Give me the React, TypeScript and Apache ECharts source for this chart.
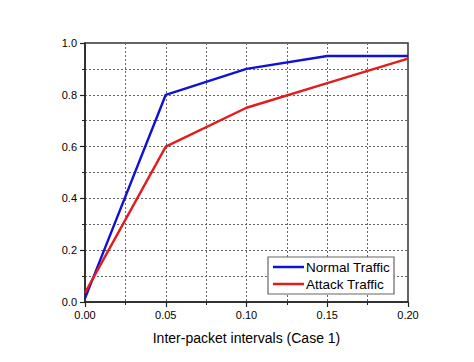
import React, { useEffect, useRef } from "react";
import * as echarts from "echarts";

const xValues = [0, 0.05, 0.1, 0.15, 0.2];
const normalTraffic = [0.014, 0.8, 0.9, 0.95, 0.95];
const attackTraffic = [0.035, 0.6, 0.75, 0.845, 0.94];
const seriesNames = ["Normal Traffic", "Attack Traffic"];
const xAxisTitle = "Inter-packet intervals (Case 1)";

export default function App() {
  const ref = useRef<HTMLDivElement>(null);
  useEffect(() => {
    if (!ref.current) return;
    const chart = echarts.init(ref.current, null, { renderer: "svg" });
    const font = "Liberation Sans, Arial, sans-serif";
    const gridLine = { show: true, lineStyle: { color: "#666", type: [2, 2], width: 1 } };
    chart.setOption({
      animation: false,
      grid: {
        left: 85,
        right: 66,
        top: 43,
        bottom: 60,
        show: true,
        borderColor: "#333",
        borderWidth: 1.5,
        backgroundColor: "transparent",
      },
      legend: {
        orient: "vertical",
        left: 268,
        top: 257,
        data: seriesNames,
        icon: "rect",
        itemWidth: 31,
        itemHeight: 2.5,
        itemGap: 3,
        padding: [3, 4, 3, 5],
        borderColor: "#666",
        borderWidth: 1.2,
        backgroundColor: "#fff",
        textStyle: { fontSize: 13.5, color: "#000", fontFamily: font, padding: [0, 0, 0, -3] },
      },
      xAxis: {
        type: "value",
        min: 0,
        max: 0.2,
        interval: 0.05,
        name: xAxisTitle,
        nameLocation: "middle",
        nameGap: 29,
        nameTextStyle: { fontSize: 14, color: "#000", fontFamily: font },
        axisLine: { show: true, lineStyle: { color: "#222", width: 1.5 } },
        axisTick: { show: true, inside: false, length: 5, lineStyle: { color: "#222", width: 1.2 } },
        minorTick: { show: true, splitNumber: 2, length: 3, lineStyle: { color: "#222", width: 1 } },
        axisLabel: { fontSize: 11, color: "#000", fontFamily: font, margin: 7, formatter: (v: number) => v.toFixed(2) },
        splitLine: gridLine,
        minorSplitLine: gridLine,
      },
      yAxis: {
        type: "value",
        min: 0,
        max: 1,
        interval: 0.2,
        axisLine: { show: true, lineStyle: { color: "#222", width: 1.5 } },
        axisTick: { show: true, inside: false, length: 5, lineStyle: { color: "#222", width: 1.2 } },
        minorTick: { show: true, splitNumber: 2, length: 3, lineStyle: { color: "#222", width: 1 } },
        axisLabel: { fontSize: 11, color: "#000", fontFamily: font, margin: 8, formatter: (v: number) => v.toFixed(1) },
        splitLine: gridLine,
        minorSplitLine: gridLine,
      },
      series: [
        {
          name: seriesNames[0],
          type: "line",
          data: xValues.map((x, i) => [x, normalTraffic[i]]),
          symbol: "none",
          lineStyle: { color: "#1010d8", width: 2.4 },
          itemStyle: { color: "#1010d8" },
          z: 3,
        },
        {
          name: seriesNames[1],
          type: "line",
          data: xValues.map((x, i) => [x, attackTraffic[i]]),
          symbol: "none",
          lineStyle: { color: "#e41b1b", width: 2.4 },
          itemStyle: { color: "#e41b1b" },
          z: 4,
        },
      ],
    });
    return () => chart.dispose();
  }, []);
  return <div ref={ref} style={{ width: 474, height: 362, position: "absolute", left: 0, top: 0 }} />;
}
